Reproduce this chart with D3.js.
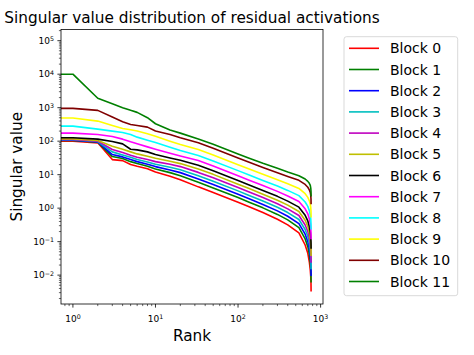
<!DOCTYPE html>
<html>
<head>
<meta charset="utf-8">
<script src="https://cdn.jsdelivr.net/npm/d3@7"></script>
<style>
  html, body { margin: 0; padding: 0; background: #fff; }
  svg { display: block; font-family: "DejaVu Sans", sans-serif; }
</style>
</head>
<body>
<div id="chart"></div>
<script>
// ---------------- data ----------------
const ranks = [0, 1, 2, 3, 4, 5, 6, 8, 10, 15, 20, 33, 50, 100, 134, 200, 300, 400, 546, 650, 700, 730, 750, 760, 765, 767];
const blockNames = ["Block 0", "Block 1", "Block 2", "Block 3", "Block 4", "Block 5",
                    "Block 6", "Block 7", "Block 8", "Block 9", "Block 10", "Block 11"];

const block0  = [126, 100, 89.1, 28.2, 26.3, 20.0, 17.8, 15.1, 12.0, 8.91, 7.08, 4.32, 2.95, 1.51, 1.12, 0.741, 0.468, 0.316, 0.182, 0.0794, 0.0447, 0.0251, 0.0141, 0.00891, 0.00562, 0.00324];
const block1  = [158, 105, 93.3, 34.7, 30.2, 24.5, 21.4, 17.8, 14.8, 11.5, 9.33, 5.89, 4.03, 2.07, 1.53, 1.02, 0.65, 0.446, 0.263, 0.121, 0.0708, 0.0417, 0.0245, 0.0158, 0.0102, 0.00603];
const block2  = [178, 107, 95.5, 39.8, 33.9, 28.2, 24.5, 20.4, 17.4, 13.8, 11.5, 7.41, 5.08, 2.61, 1.94, 1.29, 0.83, 0.574, 0.347, 0.167, 0.1, 0.0607, 0.0366, 0.0242, 0.0158, 0.00944];
const block3  = [200, 110, 97.7, 47.9, 38.9, 33.1, 28.2, 24.0, 20.4, 16.6, 14.1, 9.33, 6.4, 3.28, 2.44, 1.63, 1.06, 0.738, 0.457, 0.23, 0.142, 0.0883, 0.0551, 0.0371, 0.0247, 0.0149];
const block4  = [224, 112, 100, 56.2, 45.7, 38.0, 33.1, 28.2, 24.5, 20.4, 17.4, 11.7, 8.05, 4.13, 3.08, 2.07, 1.35, 0.953, 0.603, 0.315, 0.201, 0.129, 0.0828, 0.0569, 0.0385, 0.0236];
const block5  = [251, 117, 105, 70.8, 57.5, 47.9, 41.7, 35.5, 30.9, 25.1, 21.4, 14.8, 10.2, 5.21, 3.9, 2.62, 1.73, 1.23, 0.794, 0.434, 0.285, 0.188, 0.125, 0.0873, 0.06, 0.0373];
const block6  = [282, 126, 115, 97.7, 83.2, 57.5, 55.0, 47.9, 39.8, 31.6, 26.9, 19.1, 13.1, 6.71, 5.02, 3.39, 2.25, 1.62, 1.07, 0.612, 0.415, 0.284, 0.194, 0.139, 0.097, 0.0614];
const block7  = [355, 174, 158, 138, 115, 95.5, 83.2, 67.6, 57.5, 43.7, 36.3, 26.3, 18.1, 9.29, 6.97, 4.72, 3.17, 2.31, 1.58, 0.959, 0.678, 0.483, 0.345, 0.254, 0.182, 0.117];
const block8  = [501, 282, 229, 200, 182, 158, 132, 107, 91.2, 66.1, 52.5, 37.2, 25.6, 13.2, 9.89, 6.73, 4.58, 3.39, 2.37, 1.53, 1.13, 0.843, 0.631, 0.476, 0.35, 0.23];
const block9  = [794, 490, 398, 295, 240, 219, 200, 166, 141, 100, 79.4, 56.2, 38.8, 19.9, 15.0, 10.3, 7.1, 5.35, 3.89, 2.7, 2.1, 1.66, 1.31, 1.03, 0.773, 0.522];
const block10 = [3980, 955, 832, 525, 380, 316, 295, 263, 200, 158, 126, 89.1, 61.5, 31.6, 23.9, 16.5, 11.5, 8.85, 6.76, 5.11, 4.2, 3.52, 2.96, 2.4, 1.87, 1.3];
const block11 = [91600, 10000, 1910, 1320, 1000, 832, 724, 501, 331, 214, 174, 117, 81.3, 41.7, 31.6, 21.9, 15.5, 12.0, 9.33, 7.41, 6.31, 5.5, 4.79, 3.98, 3.16, 2.24];

const seriesValues = [block0, block1, block2, block3, block4, block5,
                      block6, block7, block8, block9, block10, block11];

const xTickValues = [1, 10, 100, 1000];
const xTickExponents = ["0", "1", "2", "3"];
const yTickValues = [1e-2, 1e-1, 1e0, 1e1, 1e2, 1e3, 1e4, 1e5];
const yTickExponents = ["\u22122", "\u22121", "0", "1", "2", "3", "4", "5"];

// ---------------- styles ----------------
const colors = ["#ff0000", "#008000", "#0000ff", "#00bfbf", "#bf00bf", "#bfbf00",
                "#000000", "#ff00ff", "#00ffff", "#ffff00", "#800000", "#008000"];

const W = 474, H = 355;
const plot = { left: 61, right: 323, top: 29.5, bottom: 304 };

const svg = d3.select("#chart").append("svg")
  .attr("width", W).attr("height", H);

// log-space 5% margins like matplotlib autoscale
function logDomain(vals) {
  const lo = Math.log10(d3.min(vals)), hi = Math.log10(d3.max(vals));
  const m = (hi - lo) * 0.05;
  return [Math.pow(10, lo - m), Math.pow(10, hi + m)];
}
const xDomain = logDomain(ranks.filter(r => r > 0));
const yDomain = logDomain(seriesValues.flat());

const x = d3.scaleLog().domain(xDomain).range([plot.left, plot.right]);
const y = d3.scaleLog().domain(yDomain).range([plot.bottom, plot.top]);

svg.append("defs").append("clipPath").attr("id", "clip")
  .append("rect")
  .attr("x", plot.left).attr("y", plot.top)
  .attr("width", plot.right - plot.left).attr("height", plot.bottom - plot.top);

// lines (rank 0 clipped to a tiny positive value, as matplotlib does on log axes)
const line = d3.line()
  .x(d => x(Math.max(d[0], 1e-300)))
  .y(d => y(d[1]));

const lineG = svg.append("g").attr("clip-path", "url(#clip)");
seriesValues.forEach((vals, i) => {
  lineG.append("path")
    .datum(ranks.map((r, j) => [r, vals[j]]))
    .attr("d", line)
    .attr("fill", "none")
    .attr("stroke", colors[i])
    .attr("stroke-width", 1.6)
    .attr("stroke-linejoin", "round");
});

// minor ticks
function minorTicks(domain) {
  const out = [];
  const lo = Math.floor(Math.log10(domain[0])), hi = Math.ceil(Math.log10(domain[1]));
  for (let e = lo; e <= hi; e++) {
    for (let m = 2; m <= 9; m++) {
      const v = m * Math.pow(10, e);
      if (v >= domain[0] && v <= domain[1]) out.push(v);
    }
  }
  return out;
}

const axG = svg.append("g");
const majorLen = 3.6, minorLen = 2.1;

// x axis ticks
minorTicks(xDomain).forEach(v => {
  axG.append("line").attr("x1", x(v)).attr("x2", x(v))
    .attr("y1", plot.bottom).attr("y2", plot.bottom + minorLen)
    .attr("stroke", "#000").attr("stroke-width", 0.6);
});
xTickValues.forEach((v, i) => {
  axG.append("line").attr("x1", x(v)).attr("x2", x(v))
    .attr("y1", plot.bottom).attr("y2", plot.bottom + majorLen)
    .attr("stroke", "#000").attr("stroke-width", 0.8);
  const t = axG.append("text")
    .attr("x", x(v)).attr("y", 321.5)
    .attr("text-anchor", "middle")
    .attr("font-size", 9).attr("fill", "#000");
  t.append("tspan").text("10");
  t.append("tspan").attr("dy", "-0.42em").attr("font-size", "0.7em").text(xTickExponents[i]);
});

// y axis ticks
minorTicks(yDomain).forEach(v => {
  axG.append("line").attr("y1", y(v)).attr("y2", y(v))
    .attr("x1", plot.left).attr("x2", plot.left - minorLen)
    .attr("stroke", "#000").attr("stroke-width", 0.6);
});
yTickValues.forEach((v, i) => {
  axG.append("line").attr("y1", y(v)).attr("y2", y(v))
    .attr("x1", plot.left).attr("x2", plot.left - majorLen)
    .attr("stroke", "#000").attr("stroke-width", 0.8);
  const t = axG.append("text")
    .attr("x", 54).attr("y", y(v) + 3.3)
    .attr("text-anchor", "end")
    .attr("font-size", 9).attr("fill", "#000");
  t.append("tspan").text("10");
  t.append("tspan").attr("dy", "-0.42em").attr("font-size", "0.7em").text(yTickExponents[i]);
});

// frame
svg.append("rect")
  .attr("x", plot.left).attr("y", plot.top)
  .attr("width", plot.right - plot.left).attr("height", plot.bottom - plot.top)
  .attr("fill", "none").attr("stroke", "#000").attr("stroke-width", 0.8);

// title and axis labels
const cx = (plot.left + plot.right) / 2;
svg.append("text").attr("x", cx).attr("y", 22.5)
  .attr("text-anchor", "middle").attr("font-size", 15.3).attr("fill", "#000")
  .text("Singular value distribution of residual activations");
svg.append("text").attr("x", cx).attr("y", 340.7)
  .attr("text-anchor", "middle").attr("font-size", 15.3).attr("fill", "#000")
  .text("Rank");
svg.append("text")
  .attr("transform", `translate(22,${(plot.top + plot.bottom) / 2}) rotate(-90)`)
  .attr("text-anchor", "middle").attr("font-size", 15.3).attr("fill", "#000")
  .text("Singular value");

// legend
const lg = svg.append("g");
lg.append("rect")
  .attr("x", 344).attr("y", 36.7).attr("width", 113.7).attr("height", 259)
  .attr("rx", 2.5).attr("ry", 2.5)
  .attr("fill", "#fff").attr("fill-opacity", 0.8)
  .attr("stroke", "#d5d5d5").attr("stroke-width", 0.9);
blockNames.forEach((name, i) => {
  const cy = 48.3 + i * 21.2;
  lg.append("line").attr("x1", 349).attr("x2", 379).attr("y1", cy).attr("y2", cy)
    .attr("stroke", colors[i]).attr("stroke-width", 1.6);
  lg.append("text").attr("x", 390).attr("y", cy + 5)
    .attr("font-size", 14).attr("fill", "#000").text(name);
});
</script>
</body>
</html>
